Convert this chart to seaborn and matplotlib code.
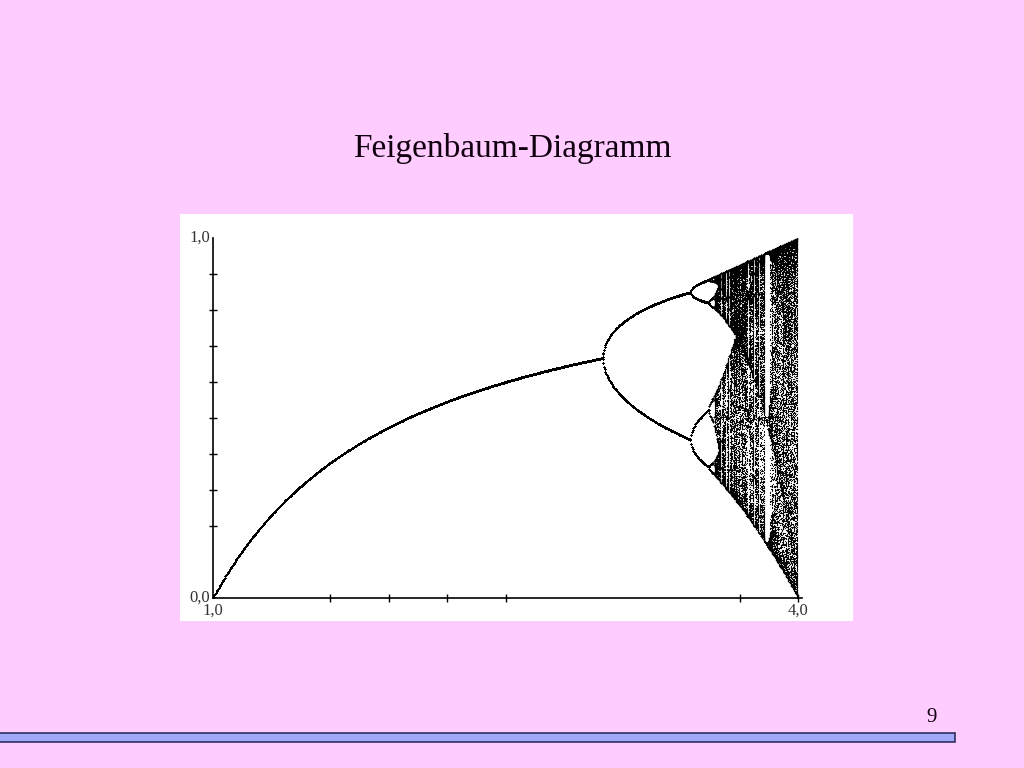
import numpy as np
import seaborn as sns
import matplotlib.pyplot as plt
from matplotlib.patches import Rectangle

# logistic map x -> r*x*(1-x), parameter range
r_start = 1.0
r_stop = 4.0
r_count = 800
x_start = 0.5
n_transient = 600
n_keep = 320

title = "Feigenbaum-Diagramm"
page_no = "9"
y_ticks = [0.2, 0.3, 0.4, 0.5, 0.6, 0.7, 0.8, 0.9]
x_ticks = [1.6, 1.9, 2.2, 2.5, 3.7]

r = np.linspace(r_start, r_stop, r_count)
x = np.full(r_count, x_start)
for i in range(n_transient):
    x = r * x * (1 - x)
rs, xs = [], []
for i in range(n_keep):
    x = r * x * (1 - x)
    rs.append(r.copy())
    xs.append(x.copy())
rs = np.concatenate(rs)
xs = np.concatenate(xs)

sns.set_style("white")
plt.rcParams['font.family'] = ['Liberation Serif', 'DejaVu Serif']

fig = plt.figure(figsize=(10.24, 7.68), dpi=100)
fig.patch.set_facecolor('#ffccff')

# white picture panel
fig.patches.append(Rectangle((180 / 1024, 147 / 768), 673 / 1024, 407 / 768,
                             transform=fig.transFigure, facecolor='white',
                             edgecolor='none', zorder=0))
# bottom bar
fig.patches.append(Rectangle((-0.01, 26 / 768), 0.9426, 9 / 768,
                             transform=fig.transFigure, facecolor='#a0a8f8',
                             edgecolor='#303060', linewidth=1.2, zorder=0))

ax = fig.add_axes([213 / 1024, 170 / 768, 585 / 1024, 360 / 768])
ax.set_zorder(2)
ax.set_facecolor('none')
sns.scatterplot(x=rs, y=xs, s=0.7, marker='o', color='black', linewidth=0,
                ax=ax, rasterized=True, legend=False)
ax.set_xlim(r_start, r_stop)
ax.set_ylim(0, 1)
ax.set_xticks(x_ticks + [4.0])
ax.set_yticks(y_ticks)
ax.set_xticklabels([])
ax.set_yticklabels([])
ax.tick_params(direction='inout', length=6, width=1, color='black',
               bottom=True, left=True)
for s in ['top', 'right']:
    ax.spines[s].set_visible(False)
for s in ['left', 'bottom']:
    ax.spines[s].set_color('black')
    ax.spines[s].set_linewidth(1.2)
ax.spines['bottom'].set_bounds(r_start, r_stop + 0.02)
ax.set_xlabel('')
ax.set_ylabel('')

lab = dict(fontsize=12, color='#333333', transform=ax.transData, clip_on=False)
ax.text(0.985, 1.0, "1,0", ha='right', va='center', **lab)
ax.text(0.985, 0.0, "0,0", ha='right', va='center', **lab)
ax.text(1.0, -0.012, "1,0", ha='center', va='top', **lab)
ax.text(4.0, -0.012, "4,0", ha='center', va='top', **lab)

fig.text(0.5, 1 - 149 / 768, title, ha='center', va='center', fontsize=24,
         color='#100010')
fig.text(932 / 1024, 1 - 718 / 768, page_no, ha='center', va='center',
         fontsize=15, color='#100010')

fig.savefig('out.png', dpi=100, facecolor=fig.get_facecolor())
